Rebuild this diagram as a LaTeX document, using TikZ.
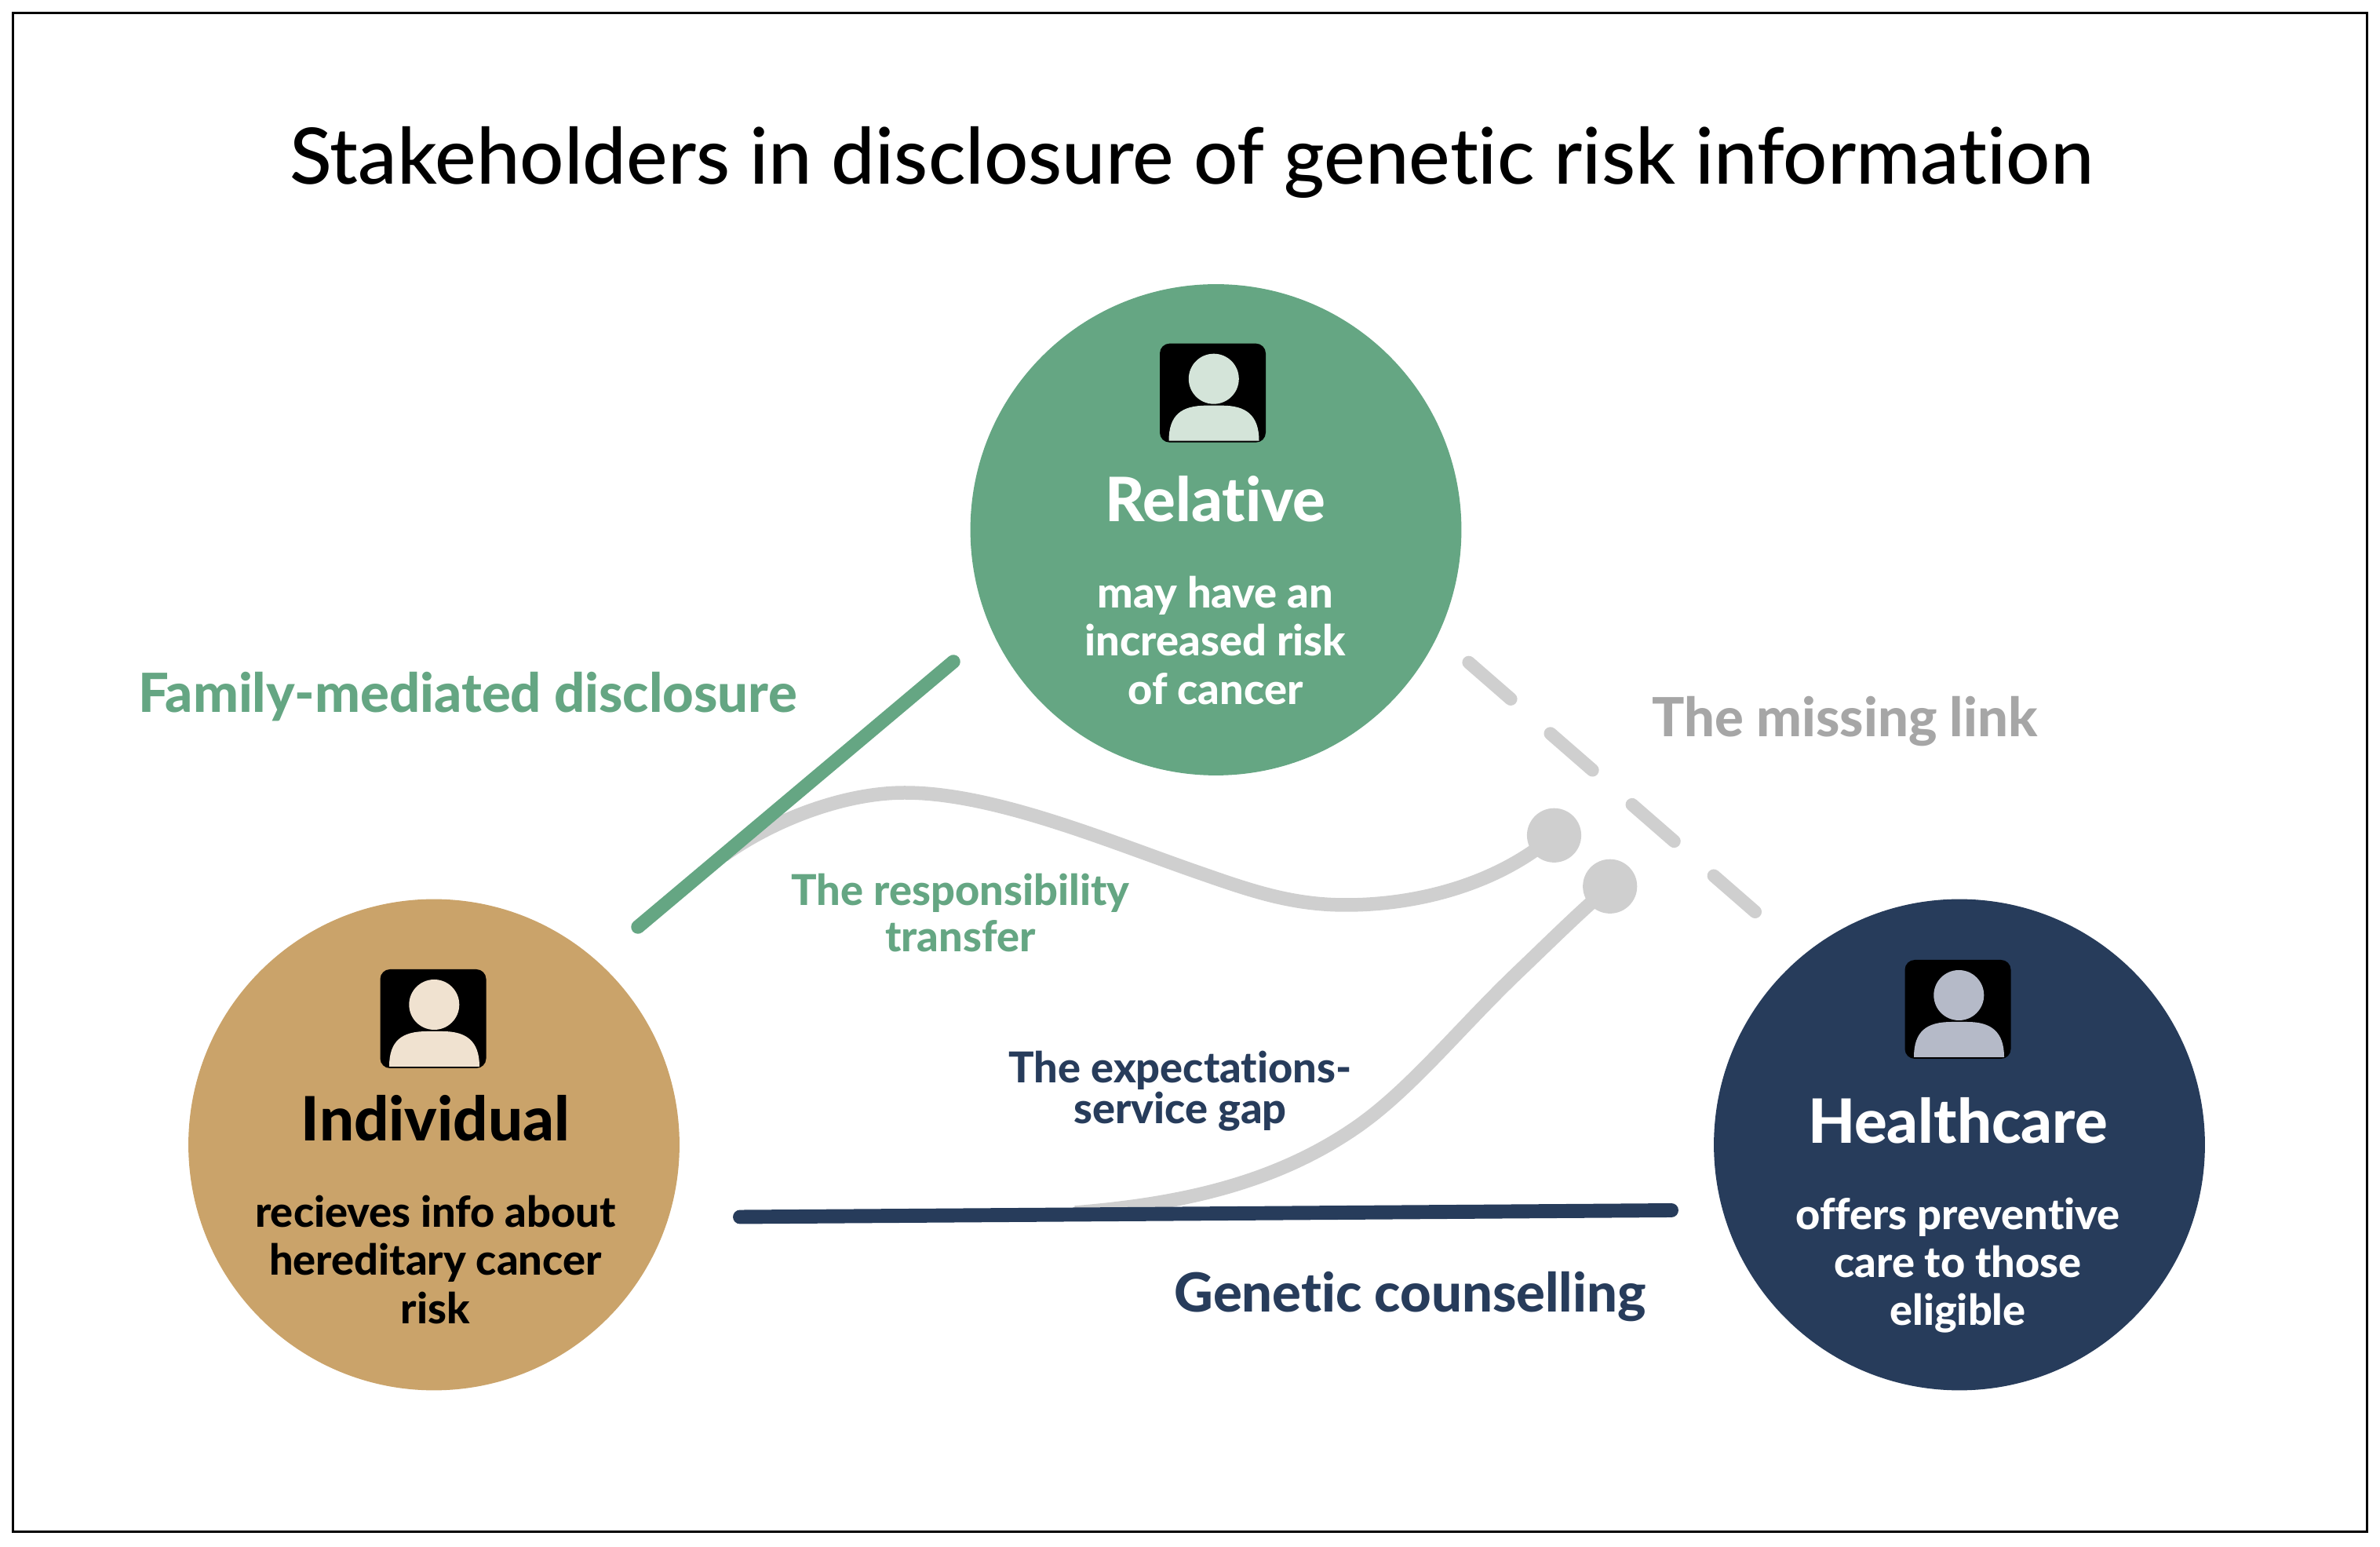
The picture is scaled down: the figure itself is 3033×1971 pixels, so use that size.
\documentclass[tikz,border=0pt]{standalone}
\usepackage{fontspec}
\setmainfont{Lato}[BoldFont={Lato Heavy}, Ligatures={NoCommon}]
\newfontfamily\titlefont{Lato Medium}[Ligatures={NoCommon}]
\definecolor{relGreen}{HTML}{65A683}
\definecolor{indTan}{HTML}{CAA36A}
\definecolor{careNavy}{HTML}{273C5B}
\definecolor{linkGrey}{HTML}{CFCFCF}
\definecolor{labelGrey}{HTML}{A6A6A6}
\definecolor{tintGreen}{HTML}{D4E4D9}
\definecolor{tintTan}{HTML}{F0E2D0}
\definecolor{tintNavy}{HTML}{B5BAC8}
\tikzset{
  x=0.24pt, y=-0.24pt,
  stake/.style = {circle, inner sep=0pt, minimum size=150.2pt},
  dot/.style = {circle, inner sep=0pt, minimum size=16.6pt, fill=linkGrey},
  txt/.style = {inner sep=0pt, align=center},
  head/.style = {txt, font=\fontsize{18.7}{24}\bfseries\selectfont},
  sub/.style = {txt, font=\fontsize{13}{14.7}\bfseries\selectfont},
  flow/.style = {txt, font=\fontsize{16.5}{20}\bfseries\selectfont},
  small/.style = {txt, font=\fontsize{13}{14}\bfseries\selectfont},
  pics/person/.style = {code={
    \fill[black, rounded corners=3pt] (-67.5,-63) rectangle (67.5,63);
    \fill[#1] (1.3,-18) circle (32);
    \fill[#1] (-56,61) .. controls (-56,28) and (-40,16) .. (-8,16) -- (12,16) .. controls (42,16) and (59,28) .. (59,61) -- cycle;
  }}
}
\begin{document}
\begin{tikzpicture}
\useasboundingbox (0,0) rectangle (3033,1971);
% frame and title
\draw[line width=0.75pt] (16.5,16.5) rectangle (3016.5,1951.5);
\node[txt, font=\fontsize{23.8}{30}\titlefont] (title) at (1518,207) {Stakeholders in disclosure of genetic risk information};

% stakeholders
\node[stake, fill=relGreen] (relative) at (1549.5,675) {};
\node[stake, fill=indTan] (individual) at (553,1458.5) {};
\node[stake, fill=careNavy] (care) at (2497,1458.5) {};

\pic (iconRel) at (1545.5,500.7) {person=tintGreen};
\pic (iconInd) at (552,1298) {person=tintTan};
\pic (iconCare) at (2495,1286) {person=tintNavy};

\node[head, text=white] (relName) at (1549,636) {Relative};
\node[sub, text=white] (relSub) at (1549,816) {may have an\\increased risk\\of cancer};
\node[head, text=black] (indName) at (555,1425) {Individual};
\node[sub, text=black] (indSub) at (555,1605) {recieves info about\\hereditary cancer\\risk};
\node[head, text=white] (careName) at (2495,1428) {Healthcare};
\node[sub, text=white] (careSub) at (2495,1612) {offers preventive\\care to those\\eligible};

% grey links, below the coloured lines
\node[dot] (dotA) at (1980.5,1064.3) {};
\node[dot] (dotB) at (2051.7,1129.3) {};
\coordinate (respStart) at (922,1090);
\coordinate (gapStart) at (1370,1545);
\draw[linkGrey, line width=4.2pt] (respStart) .. controls (985,1045) and (1075,1010) .. (1153,1010)
  .. controls (1270,1010) and (1420,1075) .. (1537,1115)
  .. controls (1600,1137) and (1650,1153) .. (1715,1153)
  .. controls (1810,1153) and (1910,1125) .. (dotA.center);
\draw[linkGrey, line width=4.2pt] (gapStart) .. controls (1490,1535) and (1620,1513) .. (1733,1433)
  .. controls (1800,1385) and (1860,1310) .. (1933,1240)
  .. controls (1975,1200) and (2015,1160) .. (dotB.center);
\coordinate (missA) at (1871.7,844);
\coordinate (missB) at (2236.7,1161.7);
\draw[linkGrey, line width=4pt, line cap=round, dash pattern=on 17.04pt off 16.08pt] (missA) -- (missB);

% coloured lines
\coordinate (famA) at (813,1181);
\coordinate (famB) at (1215,843);
\draw[relGreen, line width=4.2pt, line cap=round] (famA) -- (famB);
\coordinate (counA) at (943,1550.5);
\coordinate (counB) at (2130,1542);
\draw[careNavy, line width=4.3pt, line cap=round] (counA) -- (counB);

% labels
\node[flow, text=relGreen] (famLabel) at (596,888) {Family-mediated disclosure};
\node[small, text=relGreen] (respLabel) at (1224,1163) {The responsibility\\transfer};
\node[small, text=careNavy, font=\fontsize{13}{12.6}\bfseries\selectfont] (gapLabel) at (1504,1390) {The expectations-\\service gap};
\node[flow, text=careNavy] (counLabel) at (1797,1652) {Genetic counselling};
\node[flow, text=labelGrey] (missLabel) at (2351,919) {The missing link};
\end{tikzpicture}
\end{document}
